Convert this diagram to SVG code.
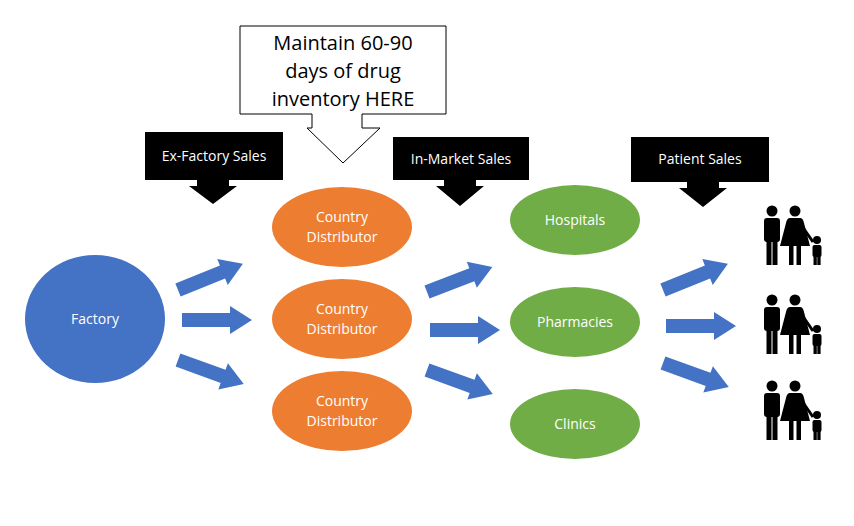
<svg xmlns="http://www.w3.org/2000/svg" xmlns:xlink="http://www.w3.org/1999/xlink" width="854" height="526" viewBox="0 0 854 526">
<style>
.t{font-family:"Open Sans","Liberation Sans",sans-serif;fill:#fff;font-size:14px;text-anchor:middle}
.b{fill:#000}
.arr{fill:#4472c4}
</style>
<defs>
<path id="ba" d="M0,-7 H48 V-14 L70,0 L48,14 V7 H0 Z"/>
<g id="fam" fill="#000">
<circle cx="11" cy="6" r="5.5"/>
<rect x="3" y="13" width="16" height="24" rx="3"/>
<rect x="5.5" y="34" width="5" height="26"/>
<rect x="11.5" y="34" width="5" height="26"/>
<circle cx="34" cy="6" r="5.5"/>
<path d="M29,13 H39 Q42,13 43,18 L49,41 H19 L25,18 Q26,13 29,13 Z"/>
<rect x="28" y="40" width="4.5" height="20"/>
<rect x="35.5" y="40" width="4.5" height="20"/>
<path d="M43,24 L52,37" stroke="#000" stroke-width="3"/>
<circle cx="56" cy="35" r="4"/>
<rect x="51.5" y="40" width="9" height="12" rx="2"/>
<rect x="52.5" y="50" width="3.3" height="10"/>
<rect x="56.3" y="50" width="3.3" height="10"/>
</g>
</defs>
<rect width="854" height="526" fill="#fff"/>
<g id="callout">
<path d="M240,26 H446 V114 H362 V128 H380 L343,163 L307,128 H312 V114 H240 Z" fill="#fff" stroke="#000" stroke-width="1"/>
<text x="343" y="50" font-family="Open Sans,Liberation Sans,sans-serif" font-size="20" text-anchor="middle">Maintain 60-90</text>
<text x="343" y="78" font-family="Open Sans,Liberation Sans,sans-serif" font-size="20" text-anchor="middle">days of drug</text>
<text x="343" y="106" font-family="Open Sans,Liberation Sans,sans-serif" font-size="20" text-anchor="middle">inventory HERE</text>
</g>
<g id="label-ex">
<path class="b" d="M145,132 H283 V180 H229 V186 H237 L213,204 L189,186 H197 V180 H145 Z"/>
<text class="t" x="214" y="161">Ex-Factory Sales</text>
</g>
<g id="label-in">
<path class="b" d="M393,137 H529 V180 H476 V186 H484 L460,206 L436,186 H444 V180 H393 Z"/>
<text class="t" x="461" y="164">In-Market Sales</text>
</g>
<g id="label-pt">
<path class="b" d="M631,137 H769 V182 H719 V188 H727 L703,207 L679,188 H687 V182 H631 Z"/>
<text class="t" x="700" y="164">Patient Sales</text>
</g>
<g id="factory"><ellipse cx="95" cy="319" rx="70" ry="64" fill="#4472c4"/><text class="t" x="95" y="324">Factory</text></g>
<g id="cd1"><ellipse cx="342" cy="227" rx="70" ry="40" fill="#ed7d31"/><text class="t" x="342" y="222">Country</text><text class="t" x="342" y="242">Distributor</text></g>
<g id="cd2"><ellipse cx="342" cy="319" rx="70" ry="40" fill="#ed7d31"/><text class="t" x="342" y="314">Country</text><text class="t" x="342" y="334">Distributor</text></g>
<g id="cd3"><ellipse cx="342" cy="411" rx="70" ry="40" fill="#ed7d31"/><text class="t" x="342" y="406">Country</text><text class="t" x="342" y="426">Distributor</text></g>
<g id="hosp"><ellipse cx="575" cy="220" rx="65" ry="35" fill="#70ad47"/><text class="t" x="575" y="225">Hospitals</text></g>
<g id="pharm"><ellipse cx="575" cy="322" rx="65" ry="35" fill="#70ad47"/><text class="t" x="575" y="327">Pharmacies</text></g>
<g id="clin"><ellipse cx="575" cy="424" rx="65" ry="35" fill="#70ad47"/><text class="t" x="575" y="429">Clinics</text></g>
<g id="fam1"><use xlink:href="#fam" x="761" y="205"/></g>
<g id="fam2"><use xlink:href="#fam" x="761" y="294"/></g>
<g id="fam3"><use xlink:href="#fam" x="761" y="380"/></g>
<g id="connectors" class="arr">
<use xlink:href="#ba" transform="translate(178,290) rotate(-22)"/>
<use xlink:href="#ba" transform="translate(182,320)"/>
<use xlink:href="#ba" transform="translate(178,360) rotate(20)"/>
<use xlink:href="#ba" transform="translate(427,292) rotate(-21)"/>
<use xlink:href="#ba" transform="translate(430,330)"/>
<use xlink:href="#ba" transform="translate(427,370) rotate(20)"/>
<use xlink:href="#ba" transform="translate(663,290) rotate(-22)"/>
<use xlink:href="#ba" transform="translate(666,326)"/>
<use xlink:href="#ba" transform="translate(663,363) rotate(20)"/>
</g>
</svg>
